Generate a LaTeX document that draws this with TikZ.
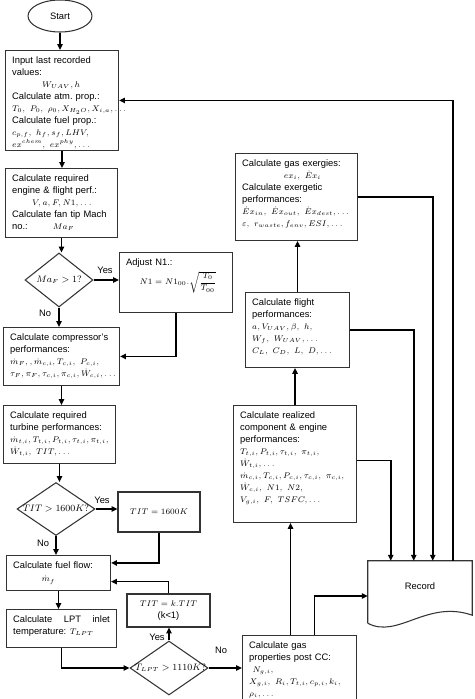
\documentclass[tikz,border=0pt]{standalone}
\usepackage{amsmath}
\usepackage{fontspec}
\setmainfont{Liberation Sans}
\usepackage{tikz}
\usetikzlibrary{arrows.meta,positioning,shapes.geometric,calc}
\newcommand{\vals}[1]{{\fontsize{7.5}{10.2}\selectfont$#1$}}
\tikzset{
    procbox/.style={draw=black!80, line width=0.9pt, align=left, anchor=north west,
    font=\fontsize{8}{10.2}\selectfont, inner xsep=0.2cm, inner ysep=0.15cm, text height=7pt},
    valuebox/.style={draw=black!80, line width=0.9pt, align=center,
    font=\fontsize{8}{10.2}\selectfont, inner sep=2pt},
    decision/.style={diamond, draw=black!80, line width=0.9pt, inner sep=0pt,
    font=\fontsize{7.6}{9.8}\selectfont},
    terminal/.style={ellipse, draw=black!80, line width=0.9pt, font=\fontsize{8}{9.8}\selectfont},
    branch/.style={font=\fontsize{8}{9.8}\selectfont},
    flow/.style={line width=1.3pt, -{Triangle[length=5pt,width=4.5pt]}},
}

\begin{document}
\begin{tikzpicture}[x=0.03cm, y=-0.03cm]
    \useasboundingbox (0,0) rectangle (474,699);
    \clip (0,0) rectangle (474,699);
    % --- left column ---
    \node[terminal, minimum width=1.92cm, minimum height=0.96cm] (start) at (60,16) {Start};
    \node[procbox, text width=2.99cm, text depth=2.45cm] (input) at (5,50)
        {Input last recorded\\values:\\\hspace*{0.9cm}\vals{W_{UAV}, h}\\Calculate atm.\ prop.:\\
        \vals{T_0,\ P_0,\ \rho_0, X_{H_2O}, X_{i,a}, \dots}\\Calculate fuel prop.:\\
        \vals{c_{p,f},\ h_f, s_f, LHV,}\\\vals{ex^{chem},\ ex^{phy}, \dots}};
    \node[procbox, text width=2.96cm, text depth=1.52cm] (req) at (5,168)
        {Calculate required\\engine \& flight perf.:\\\hspace*{0.6cm}\vals{V, a, F, N1, \dots}\\
        Calculate fan tip Mach\\no.:\hspace{0.75cm}\vals{Ma_F}};
    \node[decision, minimum width=2.04cm, minimum height=1.62cm] (machck) at (59,280)
        {\makebox[0pt]{$Ma_F > 1?$}};
    \node[procbox, text width=2.99cm, text depth=1.25cm] (adjust) at (119,252)
        {Adjust N1.:\\[2pt]\hspace*{0.4cm}\vals{N1 = N1_{00}.\sqrt{\dfrac{T_0}{T_{00}}}}};
    \node[procbox, text width=3.08cm, text depth=1.19cm] (comp) at (3,327)
        {Calculate compressor's\\performances:\\
        \vals{\dot m_F, , \dot m_{c,i}, T_{c,i},\ P_{c,i},}\\
        \vals{\tau_F, \pi_F, \tau_{c,i}, \pi_{c,i}, \dot W_{c,i}, \dots}};
    \node[procbox, text width=2.96cm, text depth=1.19cm] (turb) at (3,405)
        {Calculate required\\turbine performances:\\
        \vals{\dot m_{t,i}, T_{t,i}, P_{t,i}, \tau_{t,i}, \pi_{t,i},}\\
        \vals{\dot W_{t,i},\ TIT, \dots}};
    \node[decision, minimum width=2.34cm, minimum height=1.59cm] (titchk) at (56,509)
        {\makebox[0pt]{$TIT > 1600K?$}};
    \node[valuebox, minimum width=2.46cm, minimum height=1.2cm] (titmax) at (159,512)
        {\vals{TIT = 1600K}};
    \node[procbox, text width=2.72cm, text depth=0.5cm] (fuel) at (6,555)
        {Calculate fuel flow:\\[1pt]\hspace*{0.85cm}\vals{\dot m_f}};
    \node[procbox, align=justify, text width=2.9cm, text depth=0.59cm] (lpt) at (6,609)
        {Calculate LPT inlet temperature: \vals{T_{LPT}}};
    \node[valuebox, minimum width=2.49cm, minimum height=0.99cm] (titred) at (168.5,610.5)
        {\vals{TIT = k.TIT}\\(k<1)};
    \node[decision, minimum width=2.34cm, minimum height=1.62cm] (lptchk) at (169,668)
        {\makebox[0pt]{\hspace*{0.1cm}$T_{LPT} > 1110K?$}};
    % --- right column ---
    \node[procbox, text width=3.02cm, text depth=1.43cm] (gasprop) at (242,635)
        {Calculate gas\\properties post CC:\\\hspace*{0.1cm}\vals{N_{g,i},}\\
        \vals{X_{g,i},\ R_i, T_{t,i}, c_{p,i}, k_i,}\\\vals{\rho_i, \dots}};
    \node[procbox, text width=3.29cm, text depth=2.96cm] (realized) at (233,405)
        {Calculate realized\\component \& engine\\performances:\\
        \vals{T_{t,i}, P_{t,i}, \tau_{t,i},\ \pi_{t,i},}\\\vals{\dot W_{t,i}, \dots}\\
        \vals{\dot m_{c,i}, T_{c,i}, P_{c,i}, \tau_{c,i},\ \pi_{c,i},}\\
        \vals{\dot W_{c,i},\ N1,\ N2,}\\\vals{V_{g,i},\ F,\ TSFC, \dots}};
    \node[procbox, text width=2.72cm, text depth=1.70cm] (flight) at (245,292)
        {Calculate flight\\performances:\\\vals{a, V_{UAV}, \beta,\ h,}\\
        \vals{W_f,\ W_{UAV}, \dots}\\\vals{C_L,\ C_D,\ L,\ D, \dots}};
    \node[procbox, text width=3.26cm, text depth=2.06cm] (exergy) at (235,153)
        {Calculate gas exergies:\\\hspace*{1.25cm}\vals{ex_i,\ \dot{E}x_i}\\
        Calculate exergetic\\performances:\\
        \vals{\dot{E}x_{in},\ \dot{E}x_{out},\ \dot{E}x_{dest}, \dots}\\
        \vals{\varepsilon,\ r_{waste}, f_{env}, ESI, \dots}};
    \node[branch, minimum width=3.12cm, minimum height=1.5cm] (record) at (420,586) {Record};
    \draw[draw=black!80, line width=0.9pt] ($(record.south west)+(0,12)$) -- (record.north west)
        -- (record.north east) -- ($(record.south east)+(0,4)$)
        .. controls ($(record.south east)+(-45,-12)$) and ($(record.south west)+(30,28)$)
        .. ($(record.south west)+(0,12)$);
    % --- branch labels ---
    \node[branch] (yes1) at (105,270) {Yes};
    \node[branch] (no1) at (45,313) {No};
    \node[branch] (yes2) at (102,500) {Yes};
    \node[branch] (no2) at (43,543) {No};
    \node[branch] (yes3) at (157,637) {Yes};
    \node[branch] (no3) at (221,650) {No};
    % --- connectors ---
    \draw[flow] (start) -- (start |- input.north);
    \draw[flow] (input.south) -- (input.south |- req.north);
    \draw[flow] (req.south) -- (req.south |- machck.north);
    \draw[flow] (machck.east) -- (machck.east -| adjust.west);
    \draw[flow] (adjust.south) |- (comp.east);
    \draw[flow] (machck.south) -- (machck.south |- comp.north);
    \draw[flow] (comp.south) -- (comp.south |- turb.north);
    \draw[flow] (turb.south) -- (turb.south |- titchk.north);
    \draw[flow] (titchk.east) -- (titchk.east -| titmax.west);
    \draw[flow] (titmax.south) |- ([yshift=0.3cm]fuel.east);
    \draw[flow] (titchk.south) -- (titchk.south |- fuel.north);
    \draw[flow] (fuel.south) -- (fuel.south |- lpt.north);
    \draw[flow] (lpt.south) |- (lptchk.west);
    \draw[flow] (lptchk.north) -- (lptchk.north |- titred.south);
    \draw[flow] (titred.north) |- ([yshift=-0.26cm]fuel.east);
    \draw[flow] (lptchk.east) -- (lptchk.east -| gasprop.west);
    \draw[flow] ([xshift=-0.27cm]gasprop.north) -- ([xshift=-0.27cm]gasprop.north |- realized.south);
    \draw[flow] ([xshift=0.45cm]gasprop.north) |- ([yshift=-0.3cm]record.west);
    \draw[flow] (realized.north) -- (realized.north |- flight.south);
    \draw[flow] (flight.north) -- (flight.north |- exergy.south);
    \draw[flow] ([yshift=0.1cm]realized.east) -| ([xshift=0.69cm]record.north west);
    \draw[flow] (flight.east) -| ([xshift=1.38cm]record.north west);
    \draw[flow] (exergy.east) -| ([xshift=1.95cm]record.north west);
    \draw[flow] ([xshift=2.55cm]record.north west) |- (input.east);
\end{tikzpicture}
\end{document}
